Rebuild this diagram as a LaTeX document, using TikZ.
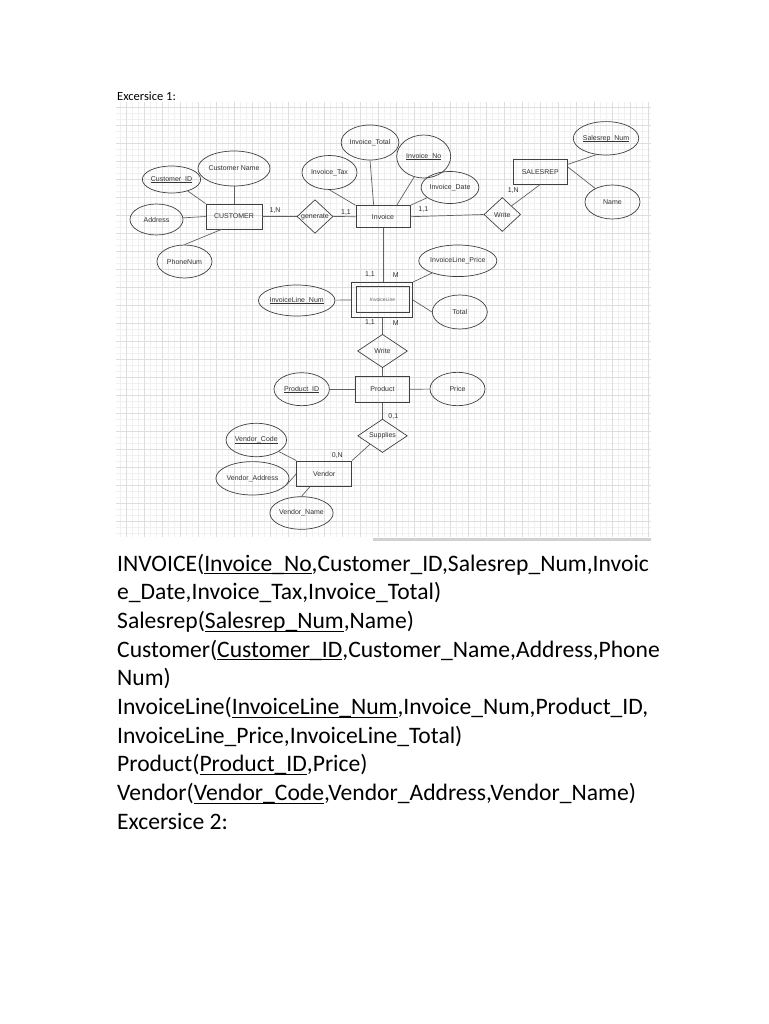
\documentclass[tikz,border=0pt]{standalone}
\usepackage{fontspec}
\setmainfont{Carlito}
\newfontfamily\arialf{Liberation Sans}
\usetikzlibrary{shapes.geometric,calc}
\newcommand\dul[1]{{\setbox0\hbox{#1}\rlap{\rule[-1.3pt]{\wd0}{0.45pt}}\box0}}
\newcommand\bul[1]{{\setbox0\hbox{#1}\rlap{\rule[-3.2pt]{\wd0}{1.1pt}}\box0}}
\tikzset{
  dfont/.style={font=\arialf\fontsize{7}{8}\selectfont, text=black!80},
  ent/.style={draw=black!75, line width=0.8pt, rectangle, inner sep=0pt, dfont},
  attr/.style={draw=black!75, line width=0.7pt, ellipse, inner sep=0pt, dfont},
  rel/.style={draw=black!75, line width=0.7pt, diamond, inner sep=0pt, dfont},
  conn/.style={draw=black!62, line width=0.7pt},
  card/.style={inner sep=0pt, dfont},
  body/.style={anchor=base west, inner sep=0pt, font=\fontsize{23.6}{29.5}\selectfont},
  minorgrid/.style={draw=black!6, line width=0.4pt},
  majorgrid/.style={draw=black!13, line width=0.5pt}
}
\begin{document}
\begin{tikzpicture}[x=1pt,y=-1pt]
\useasboundingbox (0,0) rectangle (768,1024);
\fill[white] (0,0) rectangle (768,1024);
% grid
\foreach \x in {120,126,...,648} \draw[minorgrid] (\x,102) -- (\x,537);
\foreach \y in {107,113,...,535} \draw[minorgrid] (116,\y) -- (651,\y);
\foreach \x in {126,144,...,648} \draw[majorgrid] (\x,102) -- (\x,537);
\foreach \y in {107,125,...,535} \draw[majorgrid] (116,\y) -- (651,\y);
\fill[black!18] (373,537.5) rectangle (651,541);

\node[anchor=base west, inner sep=0pt, font=\fontsize{12.5}{14}\selectfont] (title) at (117,100.5) {Excersice 1:};

% entities
\node[ent, minimum width=56pt, minimum height=25pt] (cust) at (234,216.5) {CUSTOMER};
\node[ent, minimum width=54pt, minimum height=22pt] (inv) at (383,216.7) {Invoice};
\node[ent, minimum width=54pt, minimum height=24.7pt] (srep) at (540.3,171.7) {SALESREP};
\node[ent, minimum width=61pt, minimum height=35pt] (il) at (382,300) {};
\node[ent, minimum width=53pt, minimum height=26pt, font=\arialf\fontsize{5}{6}\selectfont, text=black!60] (ilin) at (382.5,299.8) {InvoiceLine};
\node[ent, minimum width=54.3pt, minimum height=26.3pt] (prod) at (382.5,389.2) {Product};
\node[ent, minimum width=55pt, minimum height=25.7pt] (vend) at (324.2,473.8) {Vendor};

% relationships
\node[rel, minimum width=36pt, minimum height=33pt] (gen) at (315,216.5) {generate};
\node[rel, minimum width=36.6pt, minimum height=34pt] (w1) at (502.3,214.5) {Write};
\node[rel, minimum width=50pt, minimum height=33.4pt] (w2) at (382.5,351) {Write};
\node[rel, minimum width=49.6pt, minimum height=33pt] (sup) at (382.5,435.8) {Supplies};

% attributes
\node[attr, minimum width=53pt, minimum height=27pt] (cid) at (171.5,179.5) {\dul{Customer\_ID}};
\node[attr, minimum width=56pt, minimum height=35pt] (cname) at (234,168.5) {Customer Name};
\node[attr, minimum width=53pt, minimum height=31pt] (addr) at (156.5,219.5) {Address};
\node[attr, minimum width=55pt, minimum height=33pt] (phone) at (184.5,261.5) {PhoneNum};
\node[attr, minimum width=55pt, minimum height=34pt] (itax) at (329.5,172.5) {Invoice\_Tax};
\node[attr, minimum width=54.6pt, minimum height=35pt] (itot) at (370,142.5) {Invoice\_Total};
\node[attr, minimum width=54pt, minimum height=43pt] (ino) at (423.7,156.5) {\dul{Invoice\_No}};
\node[attr, minimum width=54pt, minimum height=32pt] (idate) at (450,187.5) {Invoice\_Date};
\node[attr, minimum width=54pt, minimum height=33.4pt] (snum) at (606,138.3) {\dul{Salesrep\_Num}};
\node[attr, minimum width=55pt, minimum height=34pt] (sname) at (612.5,202) {Name};
\node[attr, minimum width=77.6pt, minimum height=31.6pt] (ilprice) at (457.8,260.8) {InvoiceLine\_Price};
\node[attr, minimum width=61.4pt, minimum height=31pt] (ilnum) at (296.7,300.5) {\dul{InvoiceLine\_Num}};
\node[attr, minimum width=55pt, minimum height=34pt] (total) at (459.8,312) {Total};
\node[attr, minimum width=55.4pt, minimum height=33pt] (pid) at (301.7,389.2) {\dul{Product\_ID}};
\node[attr, minimum width=55pt, minimum height=33.4pt] (price) at (457.5,389) {Price};
\node[attr, minimum width=54pt, minimum height=33.4pt] (vcode) at (256.3,440) {\dul{Vendor\_Code}};
\node[attr, minimum width=55pt, minimum height=33.4pt] (vaddr) at (252.5,478.3) {Vendor\_Address};
\node[attr, minimum width=55pt, minimum height=32.6pt] (vname) at (301.5,513) {Vendor\_Name};

% connectors
\draw[conn] (cid) -- (cust.north west);
\draw[conn] (cname) -- (cust.north);
\draw[conn] (addr) -- (cust.west);
\draw[conn] (phone.north) -- ($(cust.south west)!0.28!(cust.south east)$);
\draw[conn] (cust.east) -- (gen.west);
\draw[conn] (gen.east) -- (inv.west);
\draw[conn] (itax.south) -- (inv.north west);
\draw[conn] (itot.south) -- ($(inv.north west)!0.33!(inv.north east)$);
\draw[conn] (ino.-115) -- ($(inv.north west)!0.75!(inv.north east)$);
\draw[conn] (idate) -- (inv.north east);
\draw[conn] (inv.east) -- (w1.west);
\draw[conn] (w1.north east) -- (srep.south);
\draw[conn] (srep.15) -- (snum.-120);
\draw[conn] (srep.10) -- (sname);
\draw[conn] (inv.south) -- (inv.south |- il.north);
\draw[conn] (ilnum) -- (il.west);
\draw[conn] (il.north east) -- (ilprice);
\draw[conn] (il.east) -- (total.west);
\draw[conn] (il.south -| w2.north) -- (w2.north);
\draw[conn] (w2.south) -- (prod.north);
\draw[conn] (pid) -- (prod.west);
\draw[conn] (prod.east) -- (price);
\draw[conn] (prod.south) -- (sup.north);
\draw[conn] (sup.south west) -- (vend.north east);
\draw[conn] (vcode) -- (vend.north west);
\draw[conn] (vaddr.-10) -- (vend.west);
\draw[conn] (vname.north) -- ($(vend.south west)!0.24!(vend.south east)$);

% cardinalities
\node[card] (c1) at (275,211) {1,N};
\node[card] (c2) at (346,212.5) {1,1};
\node[card] (c3) at (423.3,210) {1,1};
\node[card] (c4) at (513.3,190.7) {1,N};
\node[card] (c5) at (370,275) {1,1};
\node[card] (c6) at (395.7,275) {M};
\node[card] (c7) at (370,322.7) {1,1};
\node[card] (c8) at (395.7,322.7) {M};
\node[card] (c9) at (393.3,416.7) {0,1};
\node[card] (c10) at (337.3,455) {0,N};

% relational schema text
\node[body] (t1) at (117,571) {INVOICE(\bul{Invoice\_No},Customer\_ID,Salesrep\_Num,Invoic};
\node[body] (t2) at (117,599.7) {e\_Date,Invoice\_Tax,Invoice\_Total)};
\node[body] (t3) at (117,628.4) {Salesrep(\bul{Salesrep\_Num},Name)};
\node[body] (t4) at (117,657.1) {Customer(\bul{Customer\_ID},Customer\_Name,Address,Phone};
\node[body] (t5) at (117,685.8) {Num)};
\node[body] (t6) at (117,714.5) {InvoiceLine(\bul{InvoiceLine\_Num},Invoice\_Num,Product\_ID,};
\node[body] (t7) at (117,743.2) {InvoiceLine\_Price,InvoiceLine\_Total)};
\node[body] (t8) at (117,771.9) {Product(\bul{Product\_ID},Price)};
\node[body] (t9) at (117,800.6) {Vendor(\bul{Vendor\_Code},Vendor\_Address,Vendor\_Name)};
\node[body] (t10) at (117,829.3) {Excersice 2:};
\end{tikzpicture}
\end{document}
